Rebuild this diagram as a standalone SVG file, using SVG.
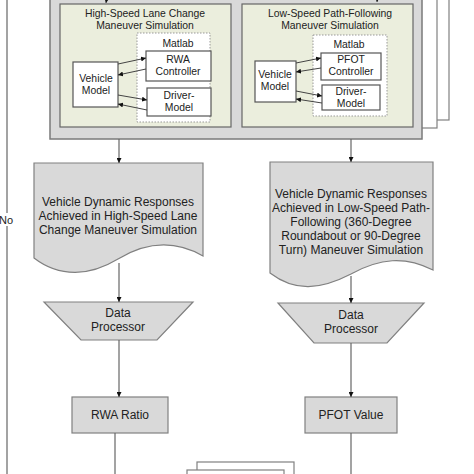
<svg xmlns="http://www.w3.org/2000/svg" width="474" height="474" viewBox="0 0 474 474">
<defs>
<style>
text{font-family:"Liberation Sans",Arial,sans-serif;fill:#222;text-anchor:middle}
.t10{font-size:10.4px}
.t12{font-size:12px}
.page{fill:#fff;stroke:#808080;stroke-width:1.2}
.outer{fill:#d9d9d9;stroke:#7a7a7a;stroke-width:1.5}
.green{fill:#ebeedd;stroke:#666;stroke-width:1.2}
.mat{fill:#fff;stroke:#999;stroke-width:1;stroke-dasharray:1.5 1.5}
.box{fill:#fff;stroke:#555;stroke-width:1.2}
.gray{fill:#d9d9d9;stroke:#808080;stroke-width:1.2}
.ln{fill:none;stroke:#666;stroke-width:1.2}
.sa{fill:none;stroke:#444;stroke-width:1}
</style>
<marker id="ah" viewBox="0 0 10 10" refX="10" refY="5" markerWidth="5" markerHeight="5" orient="auto" markerUnits="userSpaceOnUse"><path d="M0,0 L10,5 L0,10 Z" fill="#111"/></marker>
</defs>
<rect width="474" height="474" fill="#fff"/>
<g id="sim-stack">
<rect class="page" x="70" y="-30" width="379" height="150"/>
<rect class="page" x="60" y="-20" width="377" height="148"/>
<rect class="outer" x="50" y="-10" width="372" height="149"/>
</g>
<g id="high-speed-sim">
<rect class="green" x="60" y="4" width="171" height="123"/>
<text class="t10" x="145" y="17">High-Speed Lane Change</text>
<text class="t10" x="145" y="29">Maneuver Simulation</text>
<rect class="mat" x="137" y="33" width="73" height="89"/>
<text class="t10" x="178" y="47">Matlab</text>
</g>
<g id="hs-vehicle"><rect class="box" x="73" y="62" width="45" height="45"/><text class="t10" x="96" y="82">Vehicle</text><text class="t10" x="96" y="94">Model</text></g>
<g id="hs-rwa"><rect class="box" x="146" y="51" width="65" height="30"/><text class="t10" x="178" y="63">RWA</text><text class="t10" x="178" y="75">Controller</text></g>
<g id="hs-driver"><rect class="box" x="147" y="88" width="64" height="28"/><text class="t10" x="179" y="99">Driver-</text><text class="t10" x="179" y="111">Model</text></g>
<g id="low-speed-sim">
<rect class="green" x="242" y="4" width="171" height="123"/>
<text class="t10" x="330" y="17">Low-Speed Path-Following</text>
<text class="t10" x="330" y="29">Maneuver Simulation</text>
<rect class="mat" x="313" y="35" width="74" height="81"/>
<text class="t10" x="349" y="48">Matlab</text>
</g>
<g id="ls-vehicle"><rect class="box" x="255" y="61" width="41" height="41"/><text class="t10" x="275" y="78">Vehicle</text><text class="t10" x="275" y="90">Model</text></g>
<g id="ls-pfot"><rect class="box" x="321" y="53" width="60" height="27"/><text class="t10" x="351" y="63">PFOT</text><text class="t10" x="351" y="75">Controller</text></g>
<g id="ls-driver"><rect class="box" x="322" y="85" width="58" height="25"/><text class="t10" x="351" y="95">Driver-</text><text class="t10" x="351" y="107">Model</text></g>
<g id="hs-doc">
<path class="gray" d="M34,163 H203 V256 C175,240 146,242 118,259 C90,276 60,278 34,258 Z"/>
<text class="t12" x="118" y="206">Vehicle Dynamic Responses</text>
<text class="t12" x="118" y="220">Achieved in High-Speed Lane</text>
<text class="t12" x="118" y="234">Change Maneuver Simulation</text>
</g>
<g id="ls-doc">
<path class="gray" d="M270,162 H433 V270 C405,256 380,258 351,274 C320,290 295,292 270,273 Z"/>
<text class="t12" x="351" y="198">Vehicle Dynamic Responses</text>
<text class="t12" x="351" y="212">Achieved in Low-Speed Path-</text>
<text class="t12" x="351" y="226">Following (360-Degree</text>
<text class="t12" x="351" y="240">Roundabout or 90-Degree</text>
<text class="t12" x="351" y="254">Turn) Maneuver Simulation</text>
</g>
<g id="hs-processor">
<path class="gray" d="M44,302 H193 L157,340 H81 Z"/>
<text class="t12" x="118" y="317">Data</text>
<text class="t12" x="118" y="331">Processor</text>
</g>
<g id="ls-processor">
<path class="gray" d="M278,303 H424 L387,343 H314 Z"/>
<text class="t12" x="351" y="319">Data</text>
<text class="t12" x="351" y="333">Processor</text>
</g>
<g id="rwa-ratio"><rect class="gray" x="72" y="397" width="96" height="36"/><text class="t12" x="120" y="419">RWA Ratio</text></g>
<g id="pfot-value"><rect class="gray" x="305" y="397" width="92" height="36"/><text class="t12" x="351" y="419">PFOT Value</text></g>
<g id="bottom-stack">
<rect class="page" x="197" y="462" width="97" height="30"/>
<rect class="page" x="187" y="470" width="97" height="30"/>
</g>
<g id="connectors">
<line class="sa" x1="118" y1="64" x2="146" y2="58" marker-end="url(#ah)"/>
<line class="sa" x1="146" y1="69" x2="118" y2="75" marker-end="url(#ah)"/>
<line class="sa" x1="118" y1="95" x2="147" y2="100" marker-end="url(#ah)"/>
<line class="sa" x1="147" y1="110" x2="118" y2="104" marker-end="url(#ah)"/>
<line class="sa" x1="296" y1="63" x2="321" y2="58" marker-end="url(#ah)"/>
<line class="sa" x1="321" y1="68" x2="296" y2="72" marker-end="url(#ah)"/>
<line class="sa" x1="296" y1="91" x2="322" y2="96" marker-end="url(#ah)"/>
<line class="sa" x1="322" y1="103" x2="296" y2="99" marker-end="url(#ah)"/>
<line class="ln" x1="108" y1="-10" x2="106" y2="3" marker-end="url(#ah)"/>
<line class="ln" x1="378" y1="-10" x2="377" y2="2" marker-end="url(#ah)"/>
<line class="ln" x1="119" y1="139" x2="119" y2="163" marker-end="url(#ah)"/>
<line class="ln" x1="351" y1="139" x2="351" y2="162" marker-end="url(#ah)"/>
<line class="ln" x1="119" y1="263" x2="119" y2="302" marker-end="url(#ah)"/>
<line class="ln" x1="351" y1="276" x2="351" y2="303" marker-end="url(#ah)"/>
<line class="ln" x1="119" y1="340" x2="119" y2="397" marker-end="url(#ah)"/>
<line class="ln" x1="351" y1="343" x2="351" y2="397" marker-end="url(#ah)"/>
<line class="ln" x1="115" y1="433" x2="115" y2="474"/>
<line class="ln" x1="351" y1="433" x2="351" y2="474"/>
<line class="ln" x1="7" y1="0" x2="7" y2="474"/>
<rect x="0" y="213" width="15" height="13" fill="#fff"/>
<text x="6" y="224" style="font-size:11px">No</text>
</g>
</svg>
